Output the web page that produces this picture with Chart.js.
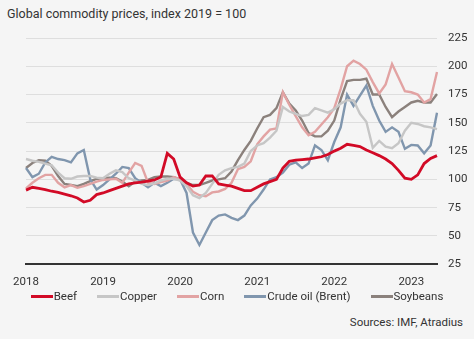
<!DOCTYPE html>
<html>
<head>
<meta charset="utf-8">
<script src="https://cdn.jsdelivr.net/npm/chart.js@4"></script>
<style>
    html, body { margin: 0; padding: 0; }
    body { width: 474px; height: 339px; background: #f5f5f5; overflow: hidden; position: relative; font-family: Roboto, 'Noto Sans', sans-serif; color: #333; }
    #title { position: absolute; left: 7px; top: 6px; font-size: 12.5px; }
    #wrap { position: absolute; left: 0; top: 0; width: 474px; height: 292px; }
    #legend { position: absolute; left: 0; width: 474px; top: 289px; display: flex; justify-content: center; font-size: 11.5px; }
    .item { display: flex; align-items: center; margin: 0 10px; }
    .swatch { width: 22px; height: 3px; margin-right: 1px; }
    #source { position: absolute; right: 11px; top: 315px; font-size: 11.5px; }
</style>
</head>
<body>
<div id="title">Global commodity prices, index 2019 = 100</div>
<div id="wrap"><canvas id="chart"></canvas></div>
<div id="legend"></div>
<div id="source">Sources: IMF, Atradius</div>
<script>
// monthly, Jan 2018 - May 2023
const months = [];
for (let y = 2018; y <= 2023; y++) {
    for (let m = 1; m <= 12; m++) {
        if (y === 2023 && m > 5) break;
        months.push(y + '-' + String(m).padStart(2, '0'));
    }
}

const beef = [90.5, 93, 92, 91, 89.5, 88.5, 87, 85.5, 83.5, 80, 81.5, 86.5,
    88, 90, 92, 94, 96, 97, 97.5, 98.5, 99.5, 102, 123, 118,
    102, 97, 94, 95, 103, 103, 96, 95, 94, 92, 90, 90,
    93, 96, 98, 100, 110, 116, 117, 117.5, 118, 119, 120, 122,
    125, 127.5, 131, 130, 129, 126, 123.5, 121, 118, 114, 108, 101,
    100, 104, 114, 118.5, 121];

const copper = [118, 116.5, 115.5, 114, 112.5, 106, 101, 100.5, 102.5, 103, 103, 101.5,
    101, 105, 108, 106.5, 101, 99, 96, 95, 96.5, 99, 100.5, 100.5,
    99, 94, 86, 83.5, 88, 96, 104, 108, 110, 111, 114, 125,
    130, 132, 137, 143, 164, 160, 158, 156, 157, 163, 161, 159,
    162, 167, 170, 170, 158, 151, 128, 134, 129, 127.5, 132, 143,
    150, 149, 147, 146, 144.5];

const corn = [92, 97, 101, 104, 104, 97, 93, 95, 92.5, 94, 96, 98,
    99.5, 100, 100.5, 97, 106, 114.5, 112, 97, 96, 97.5, 99, 102,
    100, 96, 89, 86, 85, 88.5, 89.3, 91.5, 97, 109, 111, 116,
    131, 138, 144, 145, 177, 166, 156, 146, 139, 142, 148.5, 155,
    163, 180, 200, 205, 202, 197, 186, 176, 184, 202, 190, 178,
    177, 175, 168, 171, 195];

const crudeOil = [110, 102, 105, 115, 120, 118, 117, 115, 123, 126, 100, 91,
    95, 100, 105, 111, 110, 101, 97, 93, 97, 94, 97, 100.5,
    100, 88, 53, 42, 53, 64, 68, 69, 66, 64, 68, 77,
    83, 91, 100, 102, 106, 113, 115, 110, 114, 130, 126, 117,
    133, 146, 175, 165, 174, 183, 165, 152, 142, 146, 142, 127,
    130.5, 130, 123, 130, 159];

const soybeans = [110, 114.5, 117, 116.5, 112, 103, 96, 95, 94, 96, 98.5, 100.5,
    101, 101.5, 101, 98, 94, 98, 99, 99.5, 102, 102.5, 102.5, 102,
    100, 97, 95, 95, 97, 99, 100, 101, 107, 117, 126, 134,
    145, 155, 157, 163, 177, 167, 161, 152, 141, 138, 138, 143,
    152, 171, 187, 188, 188, 189, 175, 175, 164, 155, 160, 164,
    168, 169.5, 168, 168, 175.5];

const yTicks = [25, 50, 75, 100, 125, 150, 175, 200, 225];

const series = [
    { label: 'Beef', data: beef, color: '#d20a26', width: 2.8 },
    { label: 'Copper', data: copper, color: '#c6c6c6', width: 2.4 },
    { label: 'Corn', data: corn, color: '#e2a3a3', width: 2.4 },
    { label: 'Crude oil (Brent)', data: crudeOil, color: '#8096ae', width: 2.4 },
    { label: 'Soybeans', data: soybeans, color: '#8b817c', width: 2.4 }
];

// legend
const legend = document.getElementById('legend');
series.forEach(s => {
    const item = document.createElement('div');
    item.className = 'item';
    item.innerHTML = `<span class="swatch" style="background:${s.color}"></span><span>${s.label}</span>`;
    legend.appendChild(item);
});

new Chart(document.getElementById('chart'), {
    type: 'line',
    data: {
        labels: months,
        datasets: series.map(s => ({
            label: s.label,
            data: s.data,
            borderColor: s.color,
            borderWidth: s.width,
            pointRadius: 0,
            tension: 0,
            fill: false
        }))
    },
    options: {
        responsive: true,
        maintainAspectRatio: false,
        animation: false,
        layout: { padding: { top: 38, left: 26, right: 0, bottom: 0 } },
        plugins: { legend: { display: false }, tooltip: { enabled: false } },
        scales: {
            x: {
                offset: false,
                grid: { display: false },
                border: { display: true, color: '#333', width: 2 },
                ticks: {
                    autoSkip: false,
                    maxRotation: 0,
                    padding: 3,
                    color: '#333',
                    font: { family: 'Roboto', size: 11.5 },
                    callback: function (v, i) {
                        const l = months[i];
                        return l.endsWith('-01') ? l.slice(0, 4) : '';
                    }
                }
            },
            y: {
                position: 'right',
                min: 25,
                max: 225,
                afterBuildTicks: scale => { scale.ticks = yTicks.map(v => ({ value: v })); },
                afterFit: scale => { scale.width = 37; },
                grid: { color: '#dedede', drawTicks: false, lineWidth: 1 },
                border: { display: false },
                ticks: { padding: 11, color: '#333', font: { family: 'Roboto', size: 11.5 } }
            }
        }
    }
});
</script>
</body>
</html>
